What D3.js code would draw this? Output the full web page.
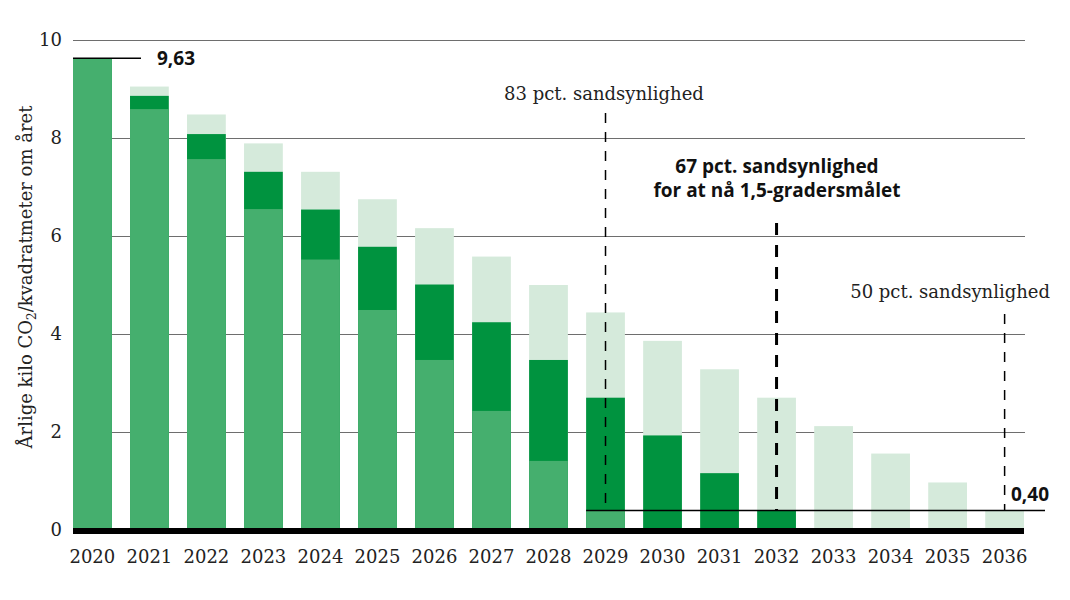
<!DOCTYPE html>
<html>
<head>
<meta charset="utf-8">
<script src="https://cdn.jsdelivr.net/npm/d3@7"></script>
<style>
  body { margin: 0; background: #fff; }
  .serif { font-family: "DejaVu Serif", serif; fill: #222; }
  .bold { font-family: "Open Sans", sans-serif; font-weight: 700; fill: #111; }
</style>
</head>
<body>
<svg id="chart" width="1070" height="600"></svg>
<script>
var years = ["2020", "2021", "2022", "2023", "2024", "2025", "2026", "2027", "2028",
             "2029", "2030", "2031", "2032", "2033", "2034", "2035", "2036"];

// udledning pr. scenarie (kg CO2/m2 pr. år)
var p50 = [9.63, 9.05, 8.48, 7.89, 7.31, 6.75, 6.16, 5.58, 5.00, 4.44, 3.86, 3.28, 2.70, 2.12, 1.56, 0.97, 0.40];
var p67 = [9.63, 8.86, 8.08, 7.31, 6.54, 5.78, 5.01, 4.24, 3.47, 2.70, 1.93, 1.16, 0.40, 0, 0, 0, 0];
var p83 = [9.63, 8.59, 7.57, 6.55, 5.52, 4.49, 3.47, 2.43, 1.41, 0.40, 0, 0, 0, 0, 0, 0, 0];

var yTicks = [0, 2, 4, 6, 8, 10];
var startValue = 9.63;
var targetValue = 0.40;

var markers = [
    {year: "2029", text: ["83 pct. sandsynlighed"], strong: false},
    {year: "2032", text: ["67 pct. sandsynlighed", "for at nå 1,5-gradersmålet"], strong: true},
    {year: "2036", text: ["50 pct. sandsynlighed"], strong: false}
];

var fmt = function(v) { return v.toFixed(2).replace(".", ","); };

var svg = d3.select("#chart");

var x = d3.scaleBand()
    .domain(years)
    .range([73, 1024])
    .paddingInner(0.32)
    .paddingOuter(0);

var y = d3.scaleLinear()
    .domain([0, 10])
    .range([530, 40]);

// gitterlinjer
svg.append("g").selectAll("line")
    .data(yTicks.filter(function(d) { return d > 0; }))
    .enter().append("line")
    .attr("x1", 73).attr("x2", 1025)
    .attr("y1", function(d) { return y(d) + 0.5; })
    .attr("y2", function(d) { return y(d) + 0.5; })
    .attr("stroke", "#6e6e6e")
    .attr("stroke-width", 1);

var layers = [
    {values: p50, color: "#d5eadb"},
    {values: p67, color: "#00933f"},
    {values: p83, color: "#45af6e"}
];

layers.forEach(function(layer) {
    svg.append("g").selectAll("rect")
        .data(layer.values.map(function(v, i) { return {year: years[i], value: v}; })
            .filter(function(d) { return d.value > 0; }))
        .enter().append("rect")
        .attr("x", function(d) { return x(d.year); })
        .attr("width", x.bandwidth())
        .attr("y", function(d) { return y(d.value); })
        .attr("height", function(d) { return y(0) - y(d.value); })
        .attr("fill", layer.color);
});

// nullinje
svg.append("rect")
    .attr("x", 73).attr("width", 1024 - 73)
    .attr("y", y(0) - 2).attr("height", 6)
    .attr("fill", "#000");

// y-akse
svg.append("g").selectAll("text")
    .data(yTicks)
    .enter().append("text")
    .attr("class", "serif")
    .attr("x", 62)
    .attr("y", function(d) { return y(d) + 6; })
    .attr("text-anchor", "end")
    .attr("font-size", 18)
    .text(function(d) { return d; });

// x-akse
svg.append("g").selectAll("text")
    .data(years)
    .enter().append("text")
    .attr("class", "serif")
    .attr("x", function(d) { return x(d) + x.bandwidth() / 2; })
    .attr("y", 563)
    .attr("text-anchor", "middle")
    .attr("font-size", 18)
    .text(function(d) { return d; });

// akse-titel
var ylab = svg.append("text")
    .attr("class", "serif")
    .attr("transform", "translate(32,277) rotate(-90)")
    .attr("text-anchor", "middle")
    .attr("font-size", 18);
ylab.append("tspan").text("Årlige kilo CO");
ylab.append("tspan").attr("font-size", 12).attr("dy", 4).text("2");
ylab.append("tspan").attr("dy", -4).text("/kvadratmeter om året");

// startværdi
svg.append("line")
    .attr("x1", 73).attr("x2", 141)
    .attr("y1", y(startValue)).attr("y2", y(startValue))
    .attr("stroke", "#000").attr("stroke-width", 1.5);
svg.append("text")
    .attr("class", "bold")
    .attr("x", 157).attr("y", y(startValue) + 7)
    .attr("font-size", 19)
    .text(fmt(startValue));

// målværdi
svg.append("line")
    .attr("x1", x("2029")).attr("x2", 1045)
    .attr("y1", y(targetValue)).attr("y2", y(targetValue))
    .attr("stroke", "#000").attr("stroke-width", 1.5);
svg.append("text")
    .attr("class", "bold")
    .attr("x", 1011).attr("y", y(targetValue) - 9)
    .attr("font-size", 19)
    .text(fmt(targetValue));

// sandsynlighedsmarkører
var markerTop = {"2029": 113, "2032": 223, "2036": 314};
var markerText = {"2029": [604, 100], "2032": [777, 173], "2036": [1050, 298]};

markers.forEach(function(m) {
    var cx = x(m.year) + x.bandwidth() / 2;
    svg.append("line")
        .attr("x1", cx).attr("x2", cx)
        .attr("y1", markerTop[m.year]).attr("y2", y(targetValue))
        .attr("stroke", "#000")
        .attr("stroke-width", m.strong ? 3 : 1.5)
        .attr("stroke-dasharray", m.strong ? "12,10" : "10,9");

    var t = svg.append("text")
        .attr("class", m.strong ? "bold" : "serif")
        .attr("x", markerText[m.year][0])
        .attr("y", markerText[m.year][1])
        .attr("text-anchor", m.year === "2036" ? "end" : "middle")
        .attr("font-size", m.strong ? 19 : 18);
    m.text.forEach(function(line, i) {
        t.append("tspan")
            .attr("x", markerText[m.year][0])
            .attr("dy", i === 0 ? 0 : 24)
            .text(line);
    });
});
</script>
</body>
</html>
